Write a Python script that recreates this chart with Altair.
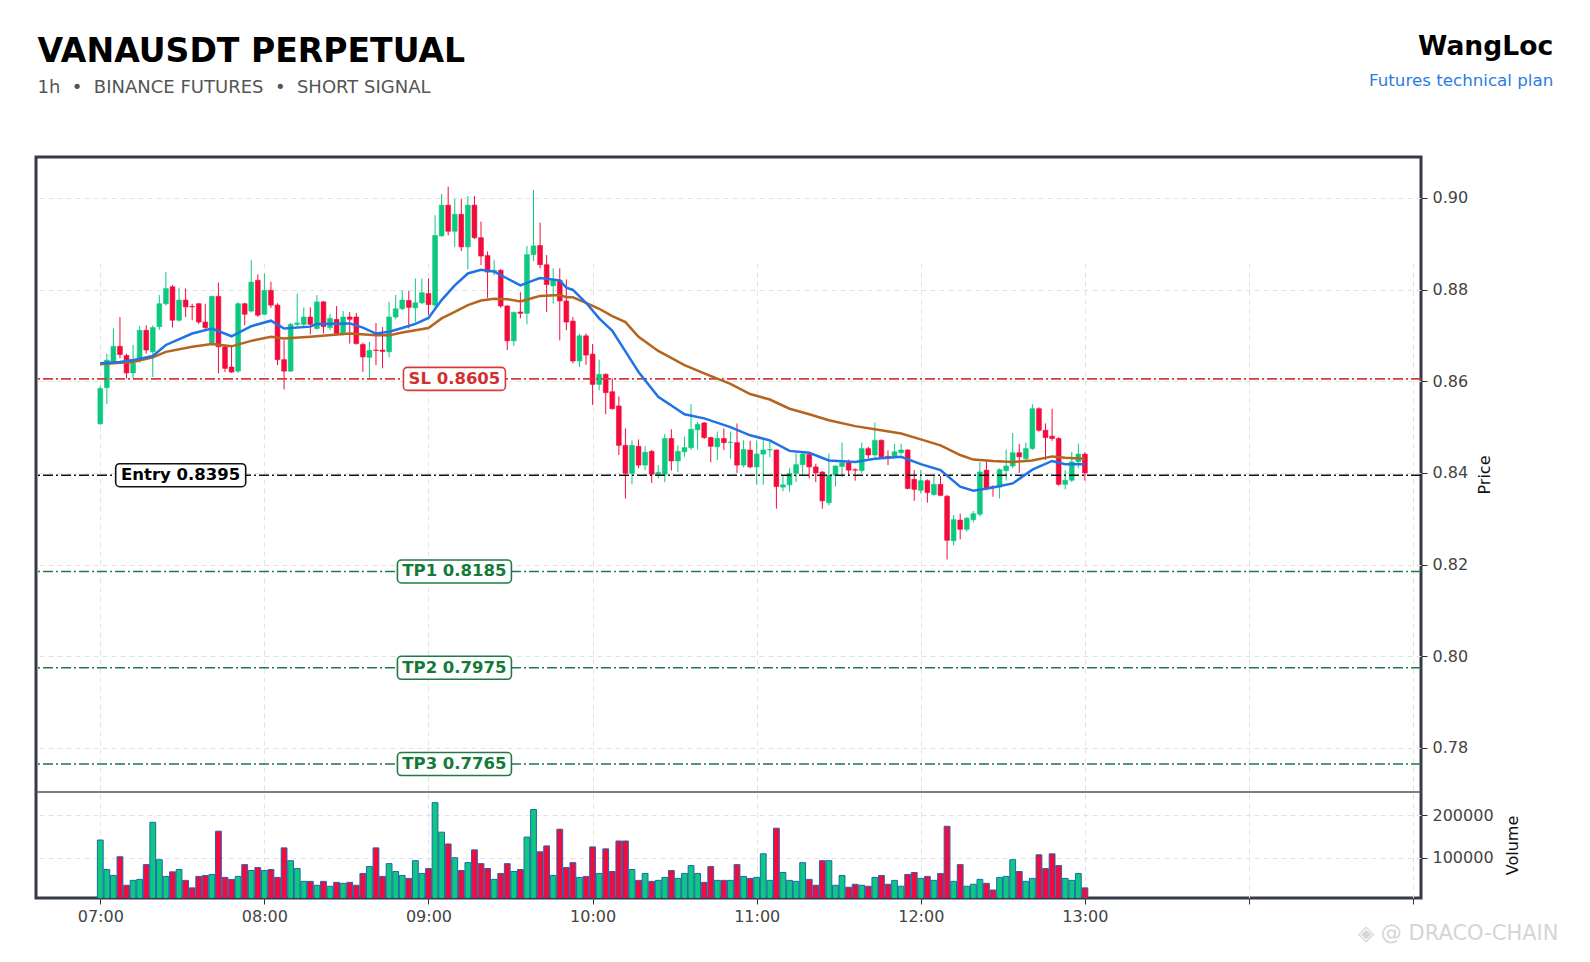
import altair as alt
import pandas as pd

# ---------------- data ----------------
opens = [0.8507,0.8586,0.8642,0.8676,0.8656,0.8618,0.8646,0.8711,0.8664,0.8719,
         0.8769,0.8806,0.8733,0.8777,0.8763,0.8769,0.8729,0.8682,0.8785,0.8675,
         0.8631,0.8622,0.8769,0.8753,0.8820,0.8746,0.8798,0.8766,0.8647,0.8622,
         0.8724,0.8724,0.8740,0.8715,0.8773,0.8717,0.8735,0.8704,0.8740,0.8740,
         0.8680,0.8652,0.8668,0.8668,0.8664,0.8740,0.8758,0.8776,0.8760,0.8771,
         0.8791,0.8766,0.8917,0.8984,0.8927,0.8964,0.8893,0.8984,0.8913,0.8874,
         0.8838,0.8842,0.8764,0.8688,0.8751,0.8748,0.8876,0.8896,0.8854,0.8808,
         0.8820,0.8775,0.8731,0.8644,0.8699,0.8659,0.8593,0.8615,0.8577,0.8546,
         0.8460,0.8399,0.8458,0.8417,0.8447,0.8397,0.8397,0.8475,0.8426,0.8446,
         0.8455,0.8494,0.8509,0.8477,0.8457,0.8475,0.8466,0.8466,0.8417,0.8450,
         0.8413,0.8441,0.8450,0.8450,0.8369,0.8374,0.8399,0.8418,0.8440,0.8413,
         0.8402,0.8335,0.8395,0.8414,0.8422,0.8407,0.8405,0.8453,0.8439,0.8471,
         0.8436,0.8436,0.8444,0.8450,0.8386,0.8362,0.8383,0.8353,0.8375,0.8349,
         0.8252,0.8297,0.8277,0.8298,0.8310,0.8406,0.8370,0.8369,0.8405,0.8415,
         0.8444,0.8431,0.8453,0.8540,0.8493,0.8480,0.8475,0.8375,0.8384,0.8424,
         0.8441]
highs = [0.8590,0.8660,0.8715,0.8740,0.8660,0.8679,0.8720,0.8722,0.8722,0.8788,
         0.8838,0.8810,0.8804,0.8802,0.8769,0.8771,0.8769,0.8786,0.8815,0.8680,
         0.8679,0.8772,0.8771,0.8864,0.8833,0.8835,0.8817,0.8770,0.8689,0.8727,
         0.8791,0.8761,0.8761,0.8788,0.8775,0.8746,0.8764,0.8753,0.8751,0.8749,
         0.8684,0.8686,0.8727,0.8718,0.8773,0.8788,0.8798,0.8797,0.8824,0.8824,
         0.8824,0.8962,0.9009,0.9024,0.8998,0.8998,0.9004,0.9004,0.8948,0.8883,
         0.8864,0.8844,0.8766,0.8752,0.8794,0.8895,0.9017,0.8946,0.8875,0.8846,
         0.8846,0.8822,0.8740,0.8704,0.8704,0.8681,0.8647,0.8617,0.8606,0.8567,
         0.8497,0.8471,0.8473,0.8458,0.8450,0.8417,0.8485,0.8495,0.8460,0.8479,
         0.8550,0.8511,0.8511,0.8479,0.8490,0.8497,0.8490,0.8508,0.8471,0.8470,
         0.8471,0.8471,0.8471,0.8451,0.8395,0.8410,0.8443,0.8444,0.8443,0.8420,
         0.8404,0.8442,0.8417,0.8466,0.8429,0.8410,0.8466,0.8457,0.8510,0.8473,
         0.8449,0.8463,0.8464,0.8452,0.8406,0.8406,0.8386,0.8393,0.8393,0.8352,
         0.8308,0.8311,0.8304,0.8317,0.8424,0.8428,0.8373,0.8410,0.8451,0.8487,
         0.8463,0.8466,0.8550,0.8543,0.8508,0.8540,0.8478,0.8406,0.8446,0.8464,
         0.8445]
lows = [0.8505,0.8550,0.8638,0.8650,0.8606,0.8606,0.8640,0.8660,0.8609,0.8712,
        0.8765,0.8717,0.8730,0.8740,0.8733,0.8725,0.8712,0.8680,0.8617,0.8620,
        0.8618,0.8618,0.8722,0.8750,0.8740,0.8744,0.8760,0.8635,0.8582,0.8620,
        0.8720,0.8720,0.8702,0.8712,0.8704,0.8711,0.8700,0.8700,0.8682,0.8680,
        0.8620,0.8606,0.8635,0.8628,0.8652,0.8735,0.8755,0.8715,0.8729,0.8768,
        0.8744,0.8760,0.8915,0.8918,0.8893,0.8884,0.8844,0.8910,0.8853,0.8782,
        0.8831,0.8760,0.8668,0.8677,0.8737,0.8724,0.8862,0.8846,0.8751,0.8769,
        0.8689,0.8711,0.8639,0.8631,0.8636,0.8548,0.8580,0.8528,0.8538,0.8439,
        0.8344,0.8375,0.8410,0.8406,0.8378,0.8388,0.8380,0.8405,0.8402,0.8435,
        0.8450,0.8451,0.8474,0.8423,0.8428,0.8450,0.8431,0.8400,0.8412,0.8410,
        0.8374,0.8374,0.8434,0.8322,0.8360,0.8359,0.8380,0.8395,0.8388,0.8380,
        0.8322,0.8329,0.8370,0.8391,0.8393,0.8383,0.8400,0.8431,0.8435,0.8432,
        0.8417,0.8432,0.8440,0.8364,0.8339,0.8355,0.8335,0.8350,0.8349,0.8211,
        0.8242,0.8255,0.8272,0.8292,0.8305,0.8362,0.8348,0.8344,0.8383,0.8410,
        0.8400,0.8428,0.8450,0.8490,0.8428,0.8470,0.8372,0.8364,0.8380,0.8410,
        0.8383]
closes = [0.8584,0.8646,0.8676,0.8658,0.8618,0.8639,0.8711,0.8668,0.8717,0.8769,
          0.8802,0.8733,0.8777,0.8762,0.8762,0.8729,0.8717,0.8785,0.8675,0.8628,
          0.8620,0.8769,0.8746,0.8816,0.8744,0.8798,0.8766,0.8647,0.8622,0.8724,
          0.8727,0.8740,0.8724,0.8773,0.8719,0.8737,0.8704,0.8740,0.8735,0.8682,
          0.8653,0.8667,0.8667,0.8665,0.8740,0.8758,0.8777,0.8761,0.8771,0.8793,
          0.8767,0.8918,0.8984,0.8927,0.8964,0.8893,0.8984,0.8913,0.8873,0.8838,
          0.8842,0.8764,0.8688,0.8750,0.8748,0.8876,0.8895,0.8854,0.8811,0.8820,
          0.8775,0.8729,0.8644,0.8699,0.8657,0.8593,0.8615,0.8575,0.8540,0.8460,
          0.8399,0.8460,0.8417,0.8445,0.8397,0.8401,0.8475,0.8426,0.8447,0.8455,
          0.8495,0.8506,0.8477,0.8458,0.8475,0.8466,0.8467,0.8417,0.8451,0.8413,
          0.8441,0.8450,0.8451,0.8370,0.8374,0.8399,0.8418,0.8441,0.8413,0.8400,
          0.8339,0.8395,0.8415,0.8422,0.8406,0.8406,0.8453,0.8439,0.8471,0.8435,
          0.8434,0.8446,0.8450,0.8366,0.8364,0.8383,0.8357,0.8375,0.8351,0.8253,
          0.8298,0.8277,0.8301,0.8311,0.8402,0.8366,0.8369,0.8407,0.8415,0.8444,
          0.8435,0.8453,0.8540,0.8493,0.8477,0.8475,0.8375,0.8384,0.8424,0.8441,
          0.8400]
volumes = [142100,73000,59150,102900,36100,47600,49900,84500,183600,96000,
           56900,67600,73000,47600,30000,56900,59150,61500,162800,54500,
           49900,56900,84500,70700,77600,70700,73000,54500,123700,93700,
           75300,45300,45300,36100,45300,33800,43000,40700,43000,36100,
           63800,79900,123700,56900,86800,68400,59150,52200,93700,63800,
           75300,229650,160500,132900,100600,70700,89100,119100,86800,75300,
           49900,63800,86800,68400,73000,149000,213500,114500,128300,59150,
           167400,77600,89100,54500,56900,126000,63800,121400,68400,139800,
           139800,73000,47600,63800,45300,47600,54500,70700,52200,63800,
           82200,63800,43000,79900,47600,47600,47600,84500,56900,52200,
           54500,109800,47600,169750,66100,47600,45300,89100,49900,36100,
           93700,93700,36100,59150,31500,38400,36100,33800,54500,59150,
           38400,47600,33800,61500,66100,52200,56900,47600,63800,174350,
           45300,84500,33800,38400,49900,40700,25000,54500,56900,96000,
           68400,45300,52200,107500,75300,109800,82200,52200,47600,63800,
           30000]

ema_fast_idx = [0,3,5,8,10,14,17,20,23,26,28,32,33,38,40,42,44,46,48,50,52,54,56,58,60,
                62,64,66,67,70,71,72,74,76,78,80,82,85,87,89,92,96,99,102,105,108,111,
                115,118,122,125,128,131,133,136,139,142,145,147,150]
ema_fast_val = [0.8639,0.8642,0.8646,0.8655,0.8679,0.8704,0.8715,0.8698,0.8720,0.8732,
                0.8715,0.8719,0.8725,0.8726,0.8717,0.8704,0.8708,0.8716,0.8725,0.8738,
                0.8777,0.8809,0.8835,0.8843,0.8839,0.8824,0.8809,0.8820,0.8825,0.8820,
                0.8804,0.8799,0.8771,0.8737,0.8710,0.8665,0.8620,0.8566,0.8547,0.8528,
                0.8519,0.8500,0.8482,0.8471,0.8448,0.8444,0.8427,0.8424,0.8431,0.8435,
                0.8419,0.8406,0.8370,0.8361,0.8368,0.8377,0.8407,0.8426,0.8419,0.8419]
ema_slow_idx = [0,3,5,8,10,14,17,20,23,26,28,32,38,42,44,46,48,50,52,54,56,58,60,62,64,
                66,67,70,71,72,74,76,78,80,82,85,89,92,96,99,102,105,108,111,115,118,
                122,125,128,131,133,136,139,142,145,147,150]
ema_slow_val = [0.8637,0.8640,0.8642,0.8652,0.8664,0.8675,0.8681,0.8676,0.8688,0.8697,
                0.8693,0.8697,0.8704,0.8700,0.8700,0.8706,0.8711,0.8716,0.8737,0.8751,
                0.8766,0.8776,0.8780,0.8779,0.8774,0.8782,0.8786,0.8788,0.8783,0.8783,
                0.8771,0.8758,0.8742,0.8729,0.8697,0.8666,0.8635,0.8617,0.8594,0.8572,
                0.8560,0.8540,0.8528,0.8515,0.8502,0.8495,0.8486,0.8473,0.8460,0.8439,
                0.8429,0.8426,0.8424,0.8427,0.8436,0.8433,0.8431]

level_names = ["SL", "Entry", "TP1", "TP2", "TP3"]
level_prices = [0.8605, 0.8395, 0.8185, 0.7975, 0.7765]
level_label_time = [9.158, 7.49, 9.158, 9.158, 9.158]   # hour position of each tag
hour_ticks = [7, 8, 9, 10, 11, 12, 13, 14, 15]
price_ticks = [0.78, 0.80, 0.82, 0.84, 0.86, 0.88, 0.90]
volume_ticks = [100000, 200000]

title_text = "VANAUSDT PERPETUAL"
NB = "\u00a0\u00a0"
subtitle_text = f"1h{NB}\u2022{NB}BINANCE FUTURES{NB}\u2022{NB}SHORT SIGNAL"
brand_text = "WangLoc"
brand_sub = "Futures technical plan"
watermark_text = "\u25c8 @ DRACO-CHAIN"

# ---------------- styling ----------------
W, H = 1385, 741
PRICE_H = 635
GREEN, RED = "#0cc97f", "#f50a3c"
FONT = "DejaVu Sans"
level_colors = ["#d63a3a", "#111111", "#1f7a45", "#1f7a45", "#1f7a45"]
level_text_colors = ["#d32f2f", "#000000", "#137a3a", "#137a3a", "#137a3a"]
badge_widths = [102, 130, 114, 114, 114]

candles = pd.DataFrame({
    "t": [7 + i / 25 for i in range(len(opens))],
    "open": opens, "high": highs, "low": lows, "close": closes, "volume": volumes,
})
candles["dir"] = ["up" if c >= o else "down" for o, c in zip(opens, closes)]
fast = pd.DataFrame({"t": [7 + i / 25 for i in ema_fast_idx], "v": ema_fast_val})
slow = pd.DataFrame({"t": [7 + i / 25 for i in ema_slow_idx], "v": ema_slow_val})
levels = pd.DataFrame({
    "name": level_names, "price": level_prices, "t": level_label_time,
    "label": [f"{n} {p:.4f}" for n, p in zip(level_names, level_prices)],
})

grid_kw = dict(grid=True, gridDash=[5, 4], gridColor="#e2e2e2", gridWidth=1,
               tickSize=6, tickColor="#333", tickWidth=1, labelFontSize=16,
               labelColor="#444", labelFont=FONT, domain=False)
xaxis = alt.Axis(values=hour_ticks,
                 labelExpr="datum.value <= 13 ? (datum.value < 10 ? '0' : '') + datum.value + ':00' : ''",
                 labelPadding=4, title=None, **grid_kw)
xscale = alt.Scale(domain=[6.6388, 15.0175], nice=False, zero=False)
pscale = alt.Scale(domain=[0.7704, 0.9089], range=[PRICE_H, 0], nice=False, zero=False)
paxis = alt.Axis(orient="right", values=price_ticks, format=".2f", labelPadding=5,
                 title="Price", titleFontSize=16, titleFontWeight="normal", titleColor="#111",
                 titleFont=FONT, titleAngle=270, titleBaseline="top", titlePadding=9, **grid_kw)
vscale = alt.Scale(domain=[6300, 254600], range=[H, PRICE_H], nice=False, zero=False)
vaxis = alt.Axis(orient="right", values=volume_ticks, format="d", labelPadding=5,
                 title="Volume", titleFontSize=16, titleFontWeight="normal", titleColor="#111",
                 titleFont=FONT, titleAngle=270, titleBaseline="top", titlePadding=11, **grid_kw)

X = alt.X("t:Q", scale=xscale, axis=xaxis)
dir_scale = alt.Scale(domain=["up", "down"], range=[GREEN, RED])
dir_color = alt.Color("dir:N", scale=dir_scale, legend=None)

def PY(field):
    return alt.Y(field, scale=pscale, axis=paxis)

base = alt.Chart(candles)
wicks = base.mark_rule(strokeWidth=1).encode(x=X, y=PY("low:Q"), y2="high:Q", color=dir_color)
bodies = base.mark_bar(width=4.8, strokeWidth=0.6).encode(
    x=X, y=PY("open:Q"), y2="close:Q", fill=dir_color,
    stroke=alt.Stroke("dir:N", scale=dir_scale, legend=None))
ema_f = alt.Chart(fast).mark_line(color="#1e73e6", strokeWidth=2.5).encode(x=X, y=PY("v:Q"))
ema_s = alt.Chart(slow).mark_line(color="#b4641e", strokeWidth=2.5).encode(x=X, y=PY("v:Q"))

lvl_layers = []
badges = []
for k in range(len(level_names)):
    one = alt.Chart(levels.iloc[[k]])
    lvl_layers.append(one.mark_rule(strokeWidth=1.6, strokeDash=[10, 3, 2, 3],
                                    color=level_colors[k]).encode(y=PY("price:Q")))
    box = one.mark_rect(width=badge_widths[k], height=23, cornerRadius=4, fill="white",
                        stroke=level_colors[k], strokeWidth=1.6).encode(x=X, y=PY("price:Q"))
    txt = one.mark_text(font=FONT, fontSize=16.5, fontWeight="bold", color=level_text_colors[k],
                        align="center", baseline="middle").encode(x=X, y=PY("price:Q"), text="label:N")
    badges += [box, txt]

one_row = alt.Chart(pd.DataFrame({"k": [0]}))
divider = one_row.mark_rule(color="#555", strokeWidth=1.3).encode(
    x=alt.value(0), x2=alt.value(W), y=alt.value(PRICE_H))
head = [
    one_row.mark_text(font=FONT, fontSize=33.1, fontWeight="bold", color="#000", align="left",
                      baseline="alphabetic").encode(x=alt.value(1.5), y=alt.value(-95.3), text=alt.value(title_text)),
    one_row.mark_text(font=FONT, fontSize=18, color="#555", align="left",
                      baseline="alphabetic").encode(x=alt.value(1.5), y=alt.value(-64.3), text=alt.value(subtitle_text)),
    one_row.mark_text(font=FONT, fontSize=26.6, fontWeight="bold", color="#000", align="right",
                      baseline="alphabetic").encode(x=alt.value(1517.3), y=alt.value(-102), text=alt.value(brand_text)),
    one_row.mark_text(font=FONT, fontSize=16.7, color="#2a7de1", align="right",
                      baseline="alphabetic").encode(x=alt.value(1517.3), y=alt.value(-71), text=alt.value(brand_sub)),
    one_row.mark_text(font=FONT, fontSize=21, color="#c8c8c8", opacity=0.75, align="left",
                      baseline="alphabetic").encode(x=alt.value(1322), y=alt.value(783), text=alt.value(watermark_text)),
]

price_layer = alt.layer(wicks, bodies, *lvl_layers, ema_s, ema_f, *badges, divider, *head)

vol_layer = alt.Chart(candles).mark_bar(width=5.8, stroke="#2066b0", strokeWidth=1, clip=True).encode(
    x=X, y=alt.Y("volume:Q", scale=vscale, axis=vaxis), fill=dir_color)

chart = alt.layer(price_layer, vol_layer).resolve_scale(y="independent").properties(
    width=W, height=H,
    background="white",
    autosize=alt.AutoSizeParams(type="none"),
    padding={"left": 28, "top": 149, "right": 160, "bottom": 54},
).configure_view(stroke="#343a46", strokeWidth=3)

chart.save("out.html", embed_options={"renderer": "svg", "actions": False})
